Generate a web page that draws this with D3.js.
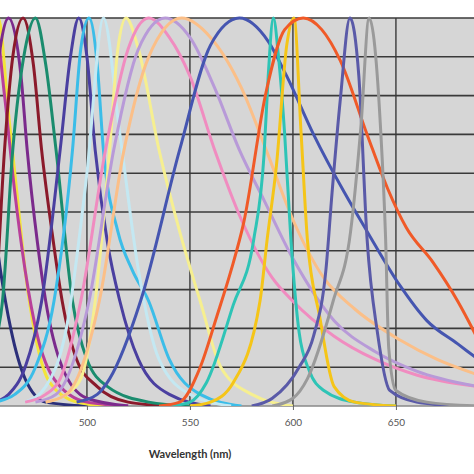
<!DOCTYPE html>
<html><head><meta charset="utf-8">
<script src="https://d3js.org/d3.v7.min.js"></script>
<style>body{margin:0;background:#fff}</style></head>
<body><svg id="c" width="474" height="474"></svg>
<script>
const xTicks = [500, 550, 600, 650];
const yTicks = [0,0.1,0.2,0.3,0.4,0.5,0.6,0.7,0.8,0.9,1];
const seriesNames = ["navy","yellow","magenta","purple","darkred","teal","indigo","sky","palecyan","paleyellow","pink","lavender","peach","royal","turquoise","gold","orange","slate","gray"];
const seriesColors = ["#2b2f7a","#f3e43a","#b8409a","#7b2a8c","#8b1a2b","#1a8c6e","#4a3fa0","#3bbde8","#c4e8f2","#f6ef90","#f08cc0","#b89ad8","#fbbf88","#4555b0","#2ec4b6","#f5c518","#f05a28","#5a5aa8","#9a9a9a"];
const navy = [[440,1],[450,0.7],[458,0.35],[463,0.2],[470,0.07],[480,0.01],[500,0]];
const yellow = [[445,0.7],[451,0.95],[457,1],[462,0.75],[466,0.55],[470,0.35],[475,0.18],[482,0.06],[495,0.01],[510,0]];
const magenta = [[440,0.4],[448,0.85],[455,1],[460,0.8],[465,0.55],[470,0.35],[476,0.18],[484,0.07],[500,0.01],[520,0]];
const purple = [[445,0.3],[450,0.5],[456,0.85],[462,1],[468,0.85],[471,0.66],[476,0.42],[480,0.27],[488,0.1],[500,0.02],[520,0]];
const darkred = [[445,0.02],[452,0.1],[456,0.3],[460,0.66],[464,0.9],[469,1],[474,0.88],[478,0.66],[483,0.45],[488,0.27],[495,0.12],[505,0.05],[520,0.01],[540,0]];
const teal = [[445,0.03],[455,0.15],[459,0.27],[464,0.66],[470,0.92],[475,1],[480,0.88],[485,0.66],[493,0.27],[500,0.12],[510,0.05],[530,0.01],[550,0]];
const indigo = [[455,0.01],[462,0.03],[470,0.1],[478,0.27],[487,0.66],[492,0.9],[496,1],[500,0.9],[504,0.66],[510,0.42],[516,0.27],[525,0.12],[540,0.03],[560,0]];
const sky = [[455,0.01],[465,0.03],[475,0.1],[484,0.27],[493,0.66],[497,0.92],[501,1],[505,0.88],[508,0.66],[515,0.45],[522,0.35],[530,0.27],[540,0.12],[555,0.03],[575,0]];
const palecyan = [[470,0.01],[480,0.05],[490,0.2],[500,0.6],[508,1],[516,0.7],[525,0.35],[535,0.12],[550,0.03],[570,0]];
const paleyellow = [[480,0.01],[490,0.03],[497,0.07],[504,0.27],[511,0.66],[515,0.92],[519,1],[525,0.92],[535,0.66],[545,0.45],[555,0.27],[565,0.1],[580,0.03],[600,0]];
const pink = [[470,0.01],[480,0.03],[487,0.07],[497,0.27],[509,0.66],[520,0.92],[530,1],[540,0.95],[550,0.85],[562,0.66],[575,0.48],[590,0.33],[600,0.27],[620,0.18],[640,0.12],[660,0.08],[690,0.05]];
const lavender = [[475,0.01],[485,0.03],[501,0.27],[513,0.66],[525,0.92],[538,1],[550,0.95],[562,0.82],[574,0.66],[586,0.53],[600,0.38],[620,0.22],[640,0.14],[660,0.09],[690,0.05]];
const peach = [[480,0.01],[490,0.03],[506,0.27],[518,0.66],[530,0.9],[546,1],[560,0.95],[575,0.82],[587,0.66],[600,0.48],[615,0.33],[630,0.25],[652,0.17],[670,0.12],[690,0.08]];
const royal = [[495,0.01],[505,0.03],[511,0.07],[526,0.27],[545,0.66],[560,0.93],[574,1],[588,0.94],[597,0.85],[610,0.7],[625,0.55],[636,0.45],[652,0.31],[665,0.22],[680,0.16],[690,0.12]];
const turquoise = [[540,0],[550,0.01],[558,0.06],[571,0.26],[581,0.43],[586,0.65],[588,0.85],[590.5,1],[593,0.9],[596,0.7],[599,0.43],[603,0.19],[608,0.09],[615,0.04],[630,0.01],[650,0]];
const gold = [[550,0],[560,0.01],[571,0.06],[584,0.27],[587.5,0.43],[592,0.62],[597,0.93],[600.5,1],[604,0.7],[607,0.43],[613,0.23],[620,0.05],[630,0.01],[650,0]];
const orange = [[535,0],[545,0.01],[555,0.1],[563,0.23],[570,0.35],[576,0.47],[587,0.81],[596,0.97],[605,1],[614,0.97],[623,0.89],[636,0.7],[646,0.56],[655,0.46],[668,0.37],[680,0.27],[690,0.17]];
const slate = [[580,0],[590,0.02],[603,0.1],[610,0.18],[616,0.35],[619,0.55],[623,0.79],[627.7,1],[632,0.85],[636,0.43],[641,0.19],[647,0.04],[660,0.01],[680,0]];
const gray = [[590,0],[600,0.02],[607,0.07],[619.5,0.27],[628,0.45],[633,0.72],[637,1],[642.5,0.72],[645,0.43],[646.5,0.15],[650,0.04],[665,0.01],[690,0]];
const seriesData = [navy,yellow,magenta,purple,darkred,teal,indigo,sky,palecyan,paleyellow,pink,lavender,peach,royal,turquoise,gold,orange,slate,gray];

const svg = d3.select("#c");
const L=0,R=474,T=18,B=406;
const x = d3.scaleLinear().domain([457.8,687.9]).range([L,R]);
const y = d3.scaleLinear().domain([0,1]).range([B,T]);
svg.append("defs").append("clipPath").attr("id","clip").append("rect").attr("x",L).attr("y",T-2).attr("width",R-L).attr("height",B-T+2);
svg.append("rect").attr("x",L).attr("y",T).attr("width",R-L).attr("height",B-T).attr("fill","#d6d6d6");
svg.append("g").selectAll("line").data(yTicks).join("line")
  .attr("x1",L).attr("x2",R).attr("y1",d=>y(d)).attr("y2",d=>y(d))
  .attr("stroke",(d)=>d===0?"#888":"#3a3a3a").attr("stroke-width",1.6);
svg.append("g").selectAll("line").data(xTicks).join("line")
  .attr("x1",d=>x(d)).attr("x2",d=>x(d)).attr("y1",T).attr("y2",B)
  .attr("stroke","#3a3a3a").attr("stroke-width",1.4);
const line = d3.line().x(d=>x(d[0])).y(d=>y(d[1])).curve(d3.curveMonotoneX);
svg.append("g").attr("clip-path","url(#clip)").selectAll("path").data(seriesData).join("path")
  .attr("d",line).attr("fill","none").attr("stroke",(d,i)=>seriesColors[i]).attr("stroke-width",3);
const ax = svg.append("g").attr("transform",`translate(0,${B})`).call(d3.axisBottom(x).tickValues(xTicks).tickSize(4).tickFormat(d3.format("d")));
ax.select(".domain").remove();
ax.selectAll("line").attr("stroke","#666");
ax.selectAll("text").attr("font-family","Lato, 'DejaVu Sans', sans-serif").attr("font-size",10).attr("fill","#555").attr("dy","1.3em");
svg.append("text").attr("x",190).attr("y",458).attr("text-anchor","middle").attr("font-family","Lato, 'DejaVu Sans', sans-serif").attr("font-weight","bold").attr("font-size",11).attr("fill","#333").text("Wavelength (nm)");
</script></body></html>
